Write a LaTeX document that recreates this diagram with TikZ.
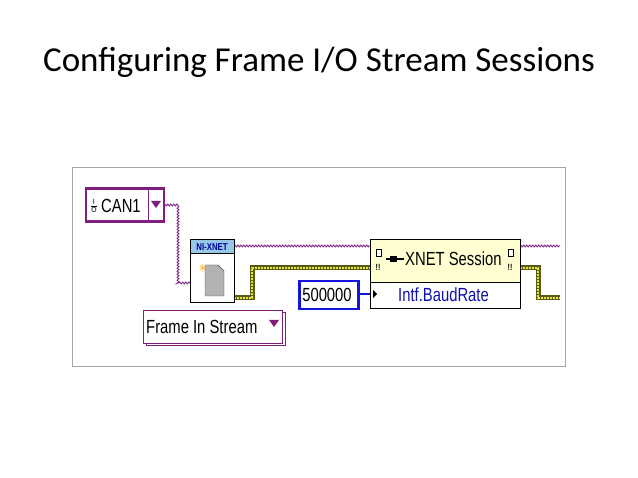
\documentclass[tikz,border=0pt]{standalone}
\usepackage{fontspec}
\setmainfont{Carlito}
\newfontfamily\lv{Liberation Sans}[FakeStretch=0.78]
\usetikzlibrary{decorations.pathmorphing}
\definecolor{pur}{RGB}{128,30,128}
\definecolor{ywire}{RGB}{230,230,60}
\definecolor{ydark}{RGB}{90,90,20}
\definecolor{hdr}{RGB}{255,255,210}
\definecolor{nihdr}{RGB}{150,200,230}
\definecolor{cblue}{RGB}{20,20,220}
\tikzset{
  pwire/.style={pur, line width=1pt, decorate, decoration={zigzag, segment length=3pt, amplitude=0.8pt}},
  ywout/.style={ydark, line width=5pt},
  ywin/.style={ywire, line width=2.5pt, dash pattern=on 2pt off 1pt},
  box/.style={draw=black, line width=1pt, fill=white},
  lbl/.style={font=\lv\fontsize{19}{19}\selectfont, inner sep=0pt},
  doc/.style={draw=black, line width=0.8pt, fill=white}
}
\begin{document}
\begin{tikzpicture}[x=1pt,y=-1pt]
\useasboundingbox (0,0) rectangle (638,478);
\node (title) at (319,62) {\fontsize{35}{38}\selectfont Configuring Frame I/O Stream Sessions};
\draw[gray!70, line width=1pt] (72,168) rectangle (565,367);
% wires
\coordinate (c1) at (178,205);
\coordinate (c2) at (178,283);
\draw[pwire] (164,205) -- (c1) -- (c2) -- (190,283);
\draw[pwire] (234,246) -- (370,246);
\draw[pwire] (520,246) -- (560,246);
\draw[ywout] (234,298) -- (252,298) -- (252,268) -- (370,268);
\draw[ywin] (234,298) -- (252,298) -- (252,268) -- (370,268);
\draw[ywout] (520,268) -- (538,268) -- (538,298) -- (560,298);
\draw[ywin] (520,268) -- (538,268) -- (538,298) -- (560,298);
\draw[cblue, line width=1.2pt] (357,294) -- (370,294);
% CAN1
\node[draw=pur, line width=2.5pt, fill=white, minimum width=78pt, minimum height=33pt, inner sep=0pt] (can) at (125,205) {};
\draw[pur, line width=1pt] (148,190) -- (148,220);
\fill[pur] (151,201) -- (161,201) -- (156,208) -- cycle;
\node[lbl, anchor=west] (cant) at (101,206) {CAN1};
\node[font=\lv\fontsize{12}{12}\selectfont, inner sep=0pt] (io) at (94,206) {$\frac{\mathrm{I}}{\mathrm{O}}$};
% NI-XNET
\node[box, minimum width=44pt, minimum height=62pt, anchor=north west, inner sep=0pt] (ni) at (190,240) {};
\draw[black, fill=nihdr, line width=1pt] (190,240) rectangle (234,254);
\node[font=\lv\bfseries\fontsize{10}{10}\selectfont, text=blue!60!black, inner sep=0pt] (nit) at (212,247) {NI-XNET};
\draw[fill=gray!60, draw=gray!60!black] (205,265) -- (218,265) -- (224,271) -- (224,296) -- (205,296) -- cycle;
\node[text=orange!80!yellow, font=\fontsize{16}{16}\selectfont, inner sep=0pt] (star) at (203,268) {$\ast$};
% Frame In Stream
\draw[pur, line width=1pt, fill=white] (146,313) rectangle (285,346);
\node[draw=pur, line width=1pt, fill=white, anchor=north west, minimum width=139pt, minimum height=33pt, inner sep=0pt] (fis) at (143,310) {};
\node[lbl, anchor=west] (fist) at (146,327) {Frame In Stream};
\fill[pur] (269,320) -- (279,320) -- (274,327) -- cycle;
% XNET Session
\node[box, anchor=north west, minimum width=150pt, minimum height=68pt, inner sep=0pt] (xs) at (370,240) {};
\draw[black, fill=hdr, line width=1pt] (370,240) rectangle (520,283);
\node[lbl, anchor=west] (xst) at (405,259) {XNET Session};
\fill[black] (390,256) rectangle (397,262);
\draw[black, line width=1.5pt] (386,259) -- (404,259);
\draw[doc] (376,249) rectangle (381,256);
\draw[doc] (508,249) rectangle (513,256);
\node[font=\lv\bfseries\fontsize{9}{9}\selectfont, inner sep=0pt] (e2) at (378,267) {!!};
\node[font=\lv\bfseries\fontsize{9}{9}\selectfont, inner sep=0pt] (e4) at (510,267) {!!};
\fill[black] (373,290) -- (377,294) -- (373,298) -- cycle;
\node[lbl, text=cblue!80!black, anchor=west] (br) at (398,295) {Intf.BaudRate};
% 500000
\node[draw=cblue, line width=2.5pt, fill=white, anchor=north west, minimum width=59pt, minimum height=28pt, inner sep=0pt] (k) at (298,280) {};
\node[lbl] (kt) at (327,295) {500000};
\end{tikzpicture}
\end{document}
